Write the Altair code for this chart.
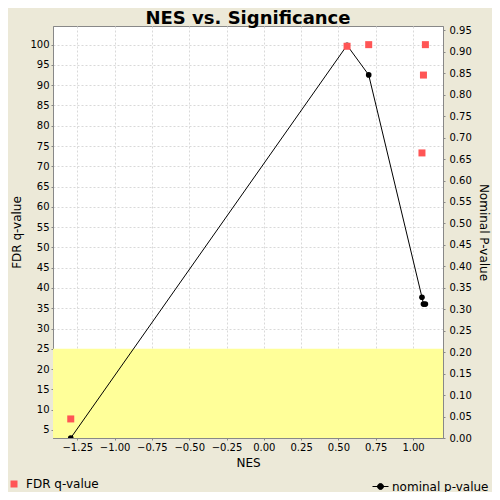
import pandas as pd
import altair as alt

# values
nes = [-1.294, 0.558, 0.703, 1.060, 1.070, 1.083]
fdr_q = [7.7, 99.6, 100.0, 73.3, 92.5, 100.0]
nominal_p = [0.0, 0.915, 0.846, 0.328, 0.312, 0.312]

nes_ticks = [-1.25, -1.0, -0.75, -0.5, -0.25, 0.0, 0.25, 0.5, 0.75, 1.0]
fdr_ticks = list(range(5, 101, 5))
p_ticks = [round(i * 0.05, 2) for i in range(20)]

nes_domain = [-1.413, 1.201]
fdr_domain = [3.0, 104.6]
p_domain = [0.0, 0.96]
fdr_cutoff = 25

FONT = 'DejaVu Sans'
LINE_SYMBOL = 'M-1,0H1M0.375,0A0.375,0.375,0,1,1,-0.375,0A0.375,0.375,0,1,1,0.375,0Z'

df = pd.DataFrame({'NES': nes, 'FDR': fdr_q, 'P': nominal_p})
df['fdr_series'] = 'FDR q-value'
df['p_series'] = 'nominal p-value'

x_enc = alt.X('NES:Q',
              scale=alt.Scale(domain=nes_domain, nice=False, zero=False),
              axis=alt.Axis(values=nes_ticks, format='.2f', title='NES',
                            titlePadding=5, labelOverlap=False))

fdr_scale = alt.Scale(domain=fdr_domain, nice=False, zero=False)
p_scale = alt.Scale(domain=p_domain, nice=False, zero=False)

# yellow band under the FDR cutoff
band = alt.Chart(pd.DataFrame({'cutoff': [fdr_cutoff]})).mark_rect(
    color='#FFFF99', opacity=1
).encode(
    x=alt.value(0),
    x2=alt.value('width'),
    y=alt.Y('cutoff:Q', scale=fdr_scale,
            axis=alt.Axis(orient='left', values=fdr_ticks, format='d',
                          title='FDR q-value', titlePadding=6,
                          labelOverlap=False, grid=True)),
    y2=alt.value('height'),
)

p_y = alt.Y('P:Q', scale=p_scale,
            axis=alt.Axis(orient='right', values=p_ticks, format='.2f',
                          title='Nominal P-value', titlePadding=5,
                          labelOverlap=False, grid=False, labelPadding=4))

p_line = alt.Chart(df).mark_line(strokeWidth=1, clip=True).encode(
    x=x_enc,
    y=p_y,
    stroke=alt.Stroke('p_series:N',
                      scale=alt.Scale(domain=['nominal p-value'], range=['black']),
                      legend=alt.Legend(orient='none', legendX=319, legendY=452,
                                        title=None, symbolType=LINE_SYMBOL,
                                        symbolSize=256, symbolStrokeWidth=1,
                                        symbolFillColor='black',
                                        labelOffset=3, labelFont=FONT,
                                        labelFontSize=12, padding=0)),
)

p_dots = alt.Chart(df).mark_circle(size=32, color='black', opacity=1, clip=True).encode(
    x=x_enc,
    y=p_y,
)

fdr_pts = alt.Chart(df).mark_square(size=49, opacity=1).encode(
    x=x_enc,
    y=alt.Y('FDR:Q', scale=fdr_scale, axis=None),
    color=alt.Color('fdr_series:N',
                    scale=alt.Scale(domain=['FDR q-value'], range=['#FF5555']),
                    legend=alt.Legend(orient='none', legendX=-45, legendY=452,
                                      title=None, symbolType='square',
                                      symbolSize=49, symbolOpacity=1,
                                      labelOffset=6, labelFont=FONT,
                                      labelFontSize=12, padding=0)),
)

chart = alt.layer(
    band,
    alt.layer(p_line, p_dots),
    fdr_pts,
).resolve_scale(
    y='independent'
).properties(
    width=390,
    height=412,
    autosize=alt.AutoSizeParams(type='none'),
    padding={'left': 45, 'top': 18, 'right': 49, 'bottom': 54},
    title=alt.Title('NES vs. Significance', font=FONT, fontSize=18,
                    fontWeight='bold', anchor='middle', offset=-3,
                    color='black'),
).configure(
    background='#ECE9D8'
).configure_view(
    fill='white',
    stroke='#888888'
).configure_axis(
    labelFont=FONT,
    labelFontSize=10,
    labelColor='black',
    titleFont=FONT,
    titleFontSize=12,
    titleFontWeight='normal',
    titleColor='black',
    domainColor='#888888',
    tickColor='#888888',
    tickSize=2,
    labelPadding=2,
    gridColor='#d9d9d9',
    gridDash=[2, 2],
    gridWidth=1,
)

chart.save('out.html', embed_options={'renderer': 'svg', 'actions': False})
